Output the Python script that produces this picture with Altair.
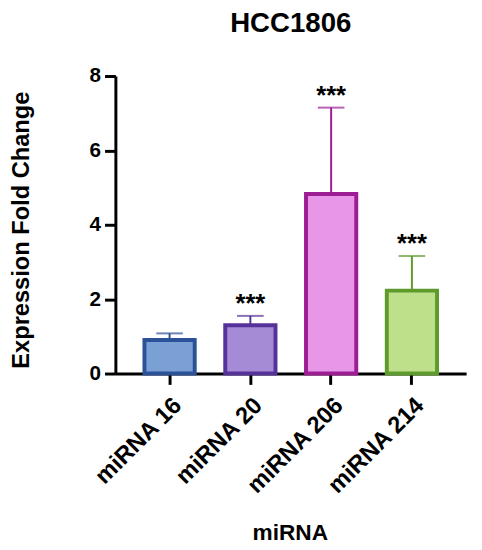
import altair as alt
import pandas as pd

mirna = ["miRNA 16", "miRNA 20", "miRNA 206", "miRNA 214"]
mean = [0.90, 1.30, 4.83, 2.23]
err_top = [1.08, 1.55, 7.15, 3.16]
sig = ["", "***", "***", "***"]
fill_colors = ["#7ba0d6", "#a58bd6", "#e896e8", "#bfe08a"]
stroke_colors = ["#2b5196", "#55329a", "#9c1d94", "#5f9a2c"]
y_ticks = [0, 2, 4, 6, 8]

df = pd.DataFrame({
    "mirna": mirna,
    "mean": mean,
    "err": err_top,
    "sig": sig,
    "fillc": fill_colors,
    "strokec": stroke_colors,
})

FONT = "Liberation Sans"

xscale = alt.Scale(domain=mirna, paddingInner=0.378, paddingOuter=0.36)
xenc = alt.X(
    "mirna:N", sort=mirna, scale=xscale,
    axis=alt.Axis(
        title="miRNA", labelAngle=-45, labelAlign="right", labelBaseline="top",
        labelPadding=9, labelFontSize=24, titleX=177, titleY=161,
        titleBaseline="middle", titleAlign="center", titleFontSize=23,
    ),
)
yscale = alt.Scale(domain=[0, 8], nice=False)
yenc = alt.Y(
    "mean:Q", scale=yscale,
    axis=alt.Axis(
        title="Expression Fold Change", values=y_ticks, labelPadding=4,
        labelFontSize=21,
        titleX=-95, titleY=156, titleAngle=270, titleBaseline="middle",
        titleAlign="center", titleFontSize=24,
    ),
)

base = alt.Chart(df)

bars = base.mark_bar(strokeWidth=4).encode(
    x=xenc,
    y=yenc,
    fill=alt.Fill("fillc:N", scale=None),
    stroke=alt.Stroke("strokec:N", scale=None),
)

rules = base.mark_rule(strokeWidth=2).encode(
    x=alt.X("mirna:N", sort=mirna, scale=xscale),
    y=alt.Y("mean:Q", scale=yscale),
    y2="err:Q",
    stroke=alt.Stroke("strokec:N", scale=None),
)

caps = base.mark_tick(size=27, thickness=2).encode(
    x=alt.X("mirna:N", sort=mirna, scale=xscale),
    y=alt.Y("err:Q", scale=yscale),
    color=alt.Color("strokec:N", scale=None),
)

stars = base.mark_text(
    font=FONT, fontSize=26, fontWeight="bold", color="black",
    baseline="alphabetic", dy=-4
).encode(
    x=alt.X("mirna:N", sort=mirna, scale=xscale),
    y=alt.Y("err:Q", scale=yscale),
    text="sig:N",
)

chart = (
    alt.layer(bars, rules, caps, stars)
    .properties(
        width=356,
        height=302,
        padding={"left": 109, "top": 65, "right": 8, "bottom": 170},
        autosize=alt.AutoSizeParams(type="none"),
        title=alt.TitleParams(
            "HCC1806", font=FONT, fontSize=28, fontWeight="bold",
            anchor="middle", frame="group", offset=28, color="black",
        ),
    )
    .configure_view(stroke=None)
    .configure_axis(
        grid=False,
        domainColor="black", domainWidth=3,
        tickColor="black", tickWidth=3, tickSize=11,
        labelColor="black", labelFont=FONT, labelFontWeight="bold",
        titleColor="black", titleFont=FONT, titleFontWeight="bold",
    )
)

chart.save("out.html", embed_options={"renderer": "svg", "actions": False})
